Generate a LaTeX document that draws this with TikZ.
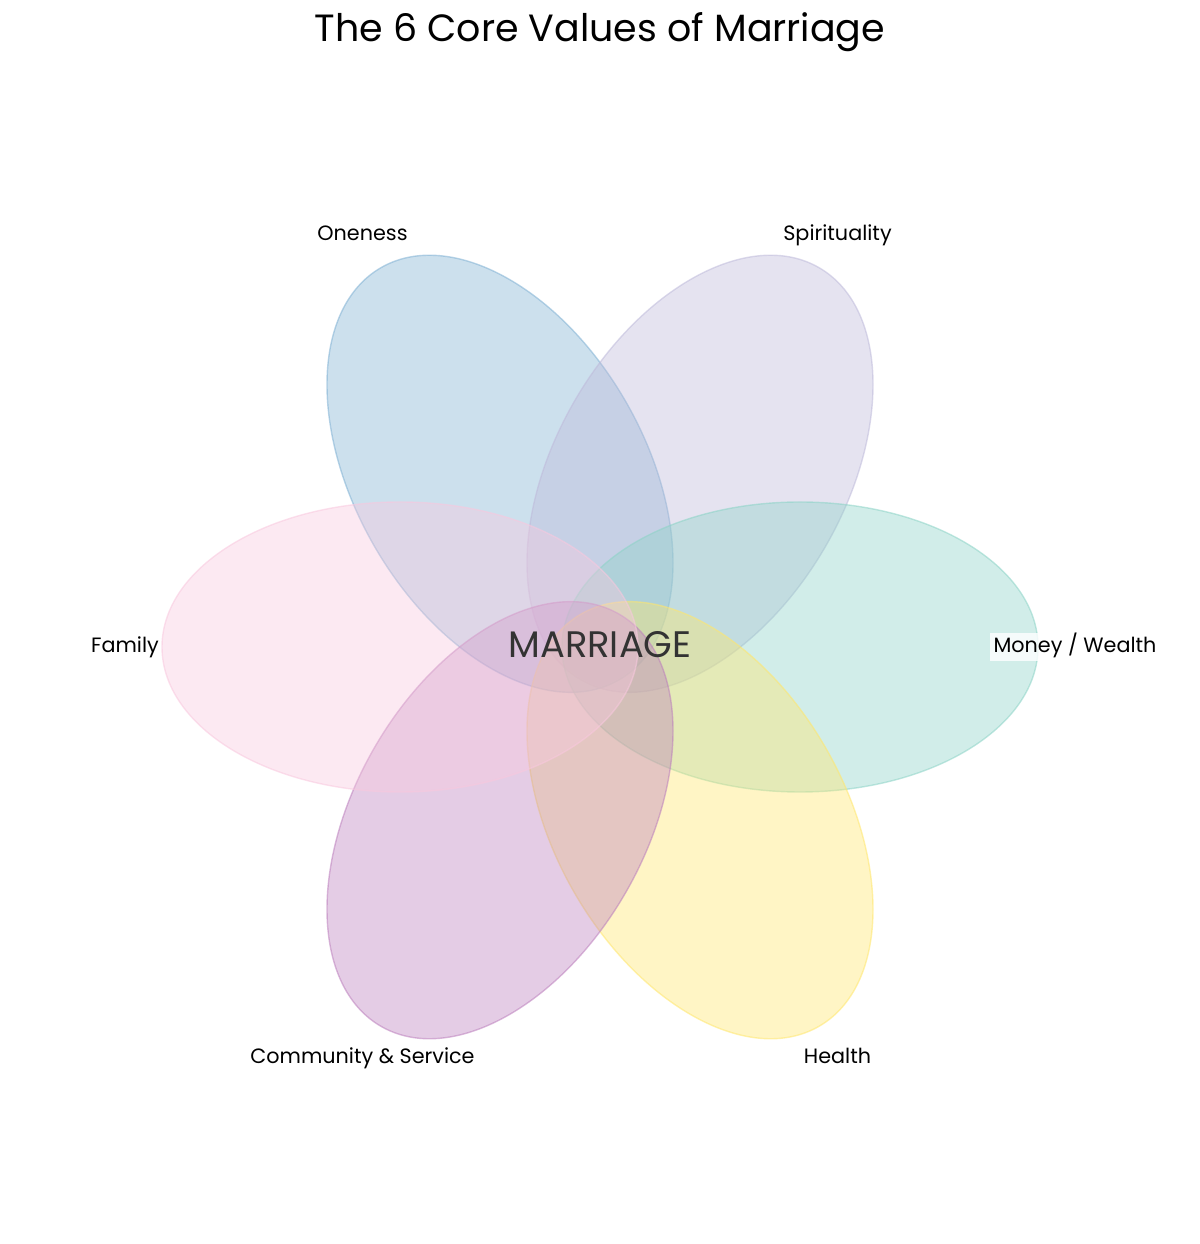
\documentclass[tikz,border=0pt]{standalone}
\usepackage{fontspec}
\setmainfont{Poppins}
\usepackage{xcolor}
\usetikzlibrary{positioning,calc,shapes.geometric}

\definecolor{onenessC}{HTML}{80B1D3}
\definecolor{spiritC}{HTML}{BEBADA}
\definecolor{moneyC}{HTML}{8DD3C7}
\definecolor{healthC}{HTML}{FFE66D}
\definecolor{communityC}{HTML}{BC80BD}
\definecolor{familyC}{HTML}{F8C8DE}
\definecolor{centreC}{HTML}{333333}

\begin{document}
\begin{tikzpicture}[petal/.style = {ellipse, minimum width=9.52cm, minimum height=5.8cm, inner sep=0pt, line width=0.8pt, fill opacity=0.4, draw opacity=0.55}, tag/.style = {font=\fontsize{11.8}{14}\selectfont, text=black, inner sep=2pt, text height=1.6ex, text depth=0.5ex}]

\useasboundingbox (0,0) rectangle (24,24.88);
\coordinate (c) at (12,11.94);

% petals
\path (c)++(120:4cm) node[petal, draw=onenessC, fill=onenessC, rotate=120] (oneness) {};
\path (c)++(60:4cm) node[petal, draw=spiritC, fill=spiritC, rotate=60] (spirit) {};
\path (c)++(0:4cm) node[petal, draw=moneyC, fill=moneyC] (money) {};
\path (c)++(-60:4cm) node[petal, draw=healthC, fill=healthC, rotate=-60] (health) {};
\path (c)++(-120:4cm) node[petal, draw=communityC, fill=communityC, rotate=-120] (community) {};
\path (c)++(180:4cm) node[petal, draw=familyC, fill=familyC] (family) {};

% labels
\path (c)++(120:9.5cm) node[tag] (onenessL) {Oneness};
\path (c)++(60:9.5cm) node[tag] (spiritL) {Spirituality};
\path (c)++(0:9.5cm) node[tag, fill=white, fill opacity=0.8, text opacity=1] (moneyL) {Money / Wealth};
\path (c)++(-60:9.5cm) node[tag] (healthL) {Health};
\path (c)++(-120:9.5cm) node[tag] (communityL) {Community \& Service};
\path (c)++(180:9.5cm) node[tag] (familyL) {Family};

\node[font=\fontsize{21}{25}\selectfont, text=centreC] (marriage) at ($(c)+(0,0.04)$) {MARRIAGE};
\node[font=\fontsize{21.6}{26}\selectfont] (title) at (12,24.24) {The 6 Core Values of Marriage};
\end{tikzpicture}
\end{document}
